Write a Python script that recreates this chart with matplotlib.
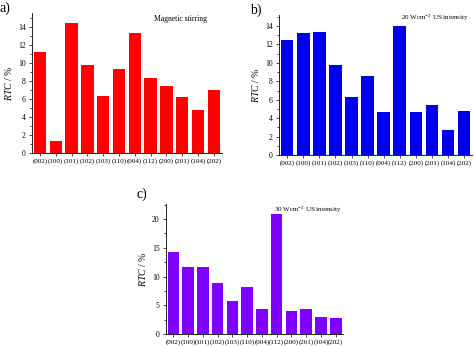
"""Relative texture coefficient of ZnO planes under three agitation modes."""

import matplotlib.pyplot as plt
from matplotlib.ticker import MultipleLocator
import numpy as np

planes = ["(002)", "(100)", "(101)", "(102)", "(103)", "(110)",
          "(004)", "(112)", "(200)", "(201)", "(104)", "(202)"]

rtc_stirring = [11.2, 1.3, 14.5, 9.8, 6.4, 9.4, 13.4, 8.3, 7.5, 6.2, 4.8, 7.0]
rtc_us20 = [12.5, 13.2, 13.3, 9.8, 6.3, 8.6, 4.7, 14.0, 4.7, 5.4, 2.7, 4.8]
rtc_us30 = [14.2, 11.7, 11.6, 8.9, 5.8, 8.2, 4.4, 20.9, 4.1, 4.4, 3.0, 2.8]

plt.rcParams["font.family"] = ["Liberation Serif", "DejaVu Serif"]
plt.rcParams["mathtext.fontset"] = "custom"
plt.rcParams["mathtext.rm"] = "Liberation Serif"
plt.rcParams["mathtext.it"] = "Liberation Serif:italic"

fig = plt.figure(figsize=(4.74, 3.47), dpi=100)

panels = [
    # rect, values, colour, ylim, major step, note, note pos, letter, letter pos
    ([0.0675, 0.559, 0.4005, 0.404], rtc_stirring, "#ff0000", 15.6, 2,
     "Magnetic stirring", (0.92, 0.955), 5.5, "a)", (0.0, 0.975)),
    ([0.589, 0.553, 0.407, 0.404], rtc_us20, "#0000f0", 15.2, 2,
     "20 Wcm$^{-2}$ US intensity", (0.985, 0.98), 5, "b)", (0.528, 0.97)),
    ([0.350, 0.037, 0.374, 0.375], rtc_us30, "#8000ff", 22.6, 5,
     "30 Wcm$^{-2}$ US intensity", (0.99, 0.955), 5, "c)", (0.287, 0.44)),
]

x = np.arange(len(planes))
for rect, values, colour, top, step, note, note_xy, note_size, letter, letter_xy in panels:
    ax = fig.add_axes(rect)
    ax.bar(x, values, width=0.78, color=colour)
    ax.set_xlim(-0.5, len(planes) - 0.5)
    ax.set_ylim(0, top)
    ax.set_xticks(x)
    ax.set_xticklabels(planes, fontsize=5.1)
    ax.yaxis.set_major_locator(MultipleLocator(step))
    ax.yaxis.set_minor_locator(MultipleLocator(step / 2))
    ax.tick_params(axis="y", labelsize=5.5, length=2.5, width=0.5, pad=2)
    ax.tick_params(axis="y", which="minor", length=1.5, width=0.5)
    ax.tick_params(axis="x", length=2, width=0.5, pad=2)
    ax.spines["top"].set_visible(False)
    ax.spines["right"].set_visible(False)
    ax.spines["left"].set_linewidth(0.6)
    ax.spines["bottom"].set_linewidth(0.6)
    ax.set_ylabel("$\\mathit{RTC}$ / %", fontsize=7, labelpad=3)
    ax.text(note_xy[0], note_xy[1], note, transform=ax.transAxes,
            fontsize=note_size, ha="right", va="center")
    fig.text(letter_xy[0], letter_xy[1], letter, fontsize=10,
             ha="left", va="center")

fig.savefig("out.png", dpi=100)
